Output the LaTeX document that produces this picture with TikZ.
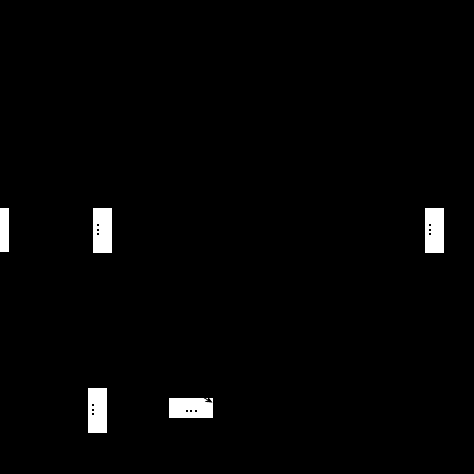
\documentclass[tikz,border=0pt]{standalone}
\usetikzlibrary{arrows.meta}
\begin{document}
\begin{tikzpicture}[x=1pt,y=-1pt,
  cell/.style={draw=black,line width=0.8pt,fill=white,inner sep=0pt},
  dotmark/.style={fill=black,inner sep=0pt,minimum size=2pt},
  conn/.style={draw=black,line width=0.8pt,-{Stealth[length=7pt,width=6pt]}}]
\fill[black] (0,0) rectangle (474,474);
\useasboundingbox (0,0) rectangle (474,474);
% boxes
\node[cell,minimum width=14pt,minimum height=45pt] (a) at (2,229.5) {};
\node[cell,minimum width=20pt,minimum height=46pt] (b) at (102,230) {};
\node[cell,minimum width=20pt,minimum height=46pt] (c) at (434,230) {};
\node[cell,minimum width=20pt,minimum height=46pt] (d) at (97,410) {};
\node[cell,minimum width=45pt,minimum height=21pt] (e) at (190.5,407.5) {};
% dots
\foreach \yy [count=\i] in {225,229.5,234} {
  \node[dotmark] (bd\i) at (97.5,\yy) {};
  \node[dotmark] (cd\i) at (429.5,\yy) {};
  \node[dotmark] (dd\i) at (92.5,\yy+180) {};
}
\foreach \xx [count=\i] in {186.5,191,195.5} {
  \node[dotmark] (ed\i) at (\xx,411) {};
}
% connectors (black)
\coordinate (ain1) at (-6,203);
\coordinate (ain2) at (-6,256);
\draw[conn] (ain1) -- ([shift={(4,2)}]a.north west);
\draw[conn] (ain2) -- ([shift={(4,-2)}]a.south west);
\coordinate (ein) at (194,392);
\draw[conn] (ein) -- ([shift={(-1,6)}]e.north east);
\end{tikzpicture}
\end{document}
